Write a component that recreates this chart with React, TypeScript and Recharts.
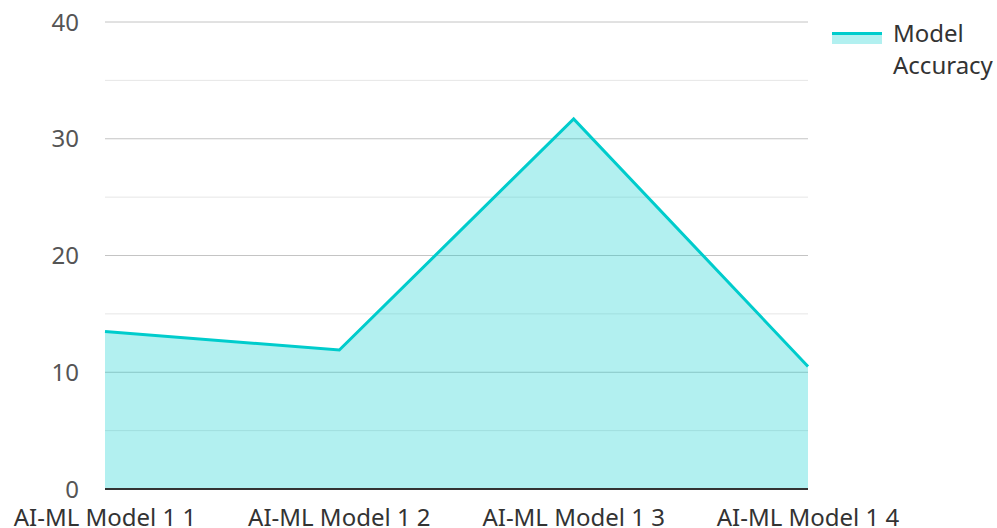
import React from "react";
import { AreaChart, Area, XAxis, YAxis, CartesianGrid } from "recharts";

const categories = ["AI-ML Model 1 1", "AI-ML Model 1 2", "AI-ML Model 1 3", "AI-ML Model 1 4"];
const accuracy = [13.5, 11.9, 31.7, 10.5];
const yTicks = [0, 10, 20, 30, 40];
const minorGrid = [5, 15, 25, 35];
const majorGrid = [10, 20, 30, 40];
const seriesName = "Model Accuracy";

const data = categories.map((name, i) => ({ name, accuracy: accuracy[i] }));

const COLOR = "#00cccc";
const FONT = "'Noto Sans', 'Open Sans', sans-serif";

export default function App() {
  return (
    <div style={{ padding: "8px 0 0 8px", width: 989, height: 520 }}>
      <style>{"html { overflow: hidden; } body { margin: 0; }"}</style>
      <div style={{ position: "relative", width: 989, height: 520, fontFamily: FONT }}>
        <AreaChart
          width={989}
          height={520}
          data={data}
          margin={{ top: 14, right: 189, bottom: 0, left: 0 }}
          style={{ fontFamily: FONT }}
        >
          <CartesianGrid vertical={false} horizontalValues={minorGrid} stroke="#e6e6e6" strokeWidth={1} />
          <CartesianGrid vertical={false} horizontalValues={majorGrid} stroke="#c4c4c4" strokeWidth={1} />
          <XAxis
            dataKey="name"
            interval={0}
            tickLine={false}
            tickSize={0}
            tickMargin={20}
            height={39}
            axisLine={{ stroke: "#333333", strokeWidth: 2 }}
            tick={{ fontSize: 24, fill: "#333333", fontFamily: FONT }}
          />
          <YAxis
            domain={[0, 40]}
            ticks={yTicks}
            width={97}
            axisLine={false}
            tickLine={false}
            tickSize={0}
            tickMargin={26}
            tick={{ fontSize: 24, fill: "#555555", fontFamily: FONT }}
          />
          <Area
            type="linear"
            dataKey="accuracy"
            name={seriesName}
            stroke={COLOR}
            strokeWidth={3}
            fill={COLOR}
            fillOpacity={0.3}
            dot={false}
            activeDot={false}
            isAnimationActive={false}
          />
        </AreaChart>
        <div
          style={{
            position: "absolute",
            left: 824,
            top: 9,
            width: 170,
            display: "flex",
            alignItems: "flex-start",
            fontSize: 24,
            color: "#333333",
            lineHeight: "32px",
          }}
        >
          <svg width={50} height={30} style={{ flex: "none" }}>
            <rect x={0} y={17} width={50} height={10} fill={COLOR} fillOpacity={0.3} />
            <line x1={0} y1={16.5} x2={50} y2={16.5} stroke={COLOR} strokeWidth={3} />
          </svg>
          <div style={{ marginLeft: 11, width: 105, flex: "none" }}>{seriesName}</div>
        </div>
      </div>
    </div>
  );
}
